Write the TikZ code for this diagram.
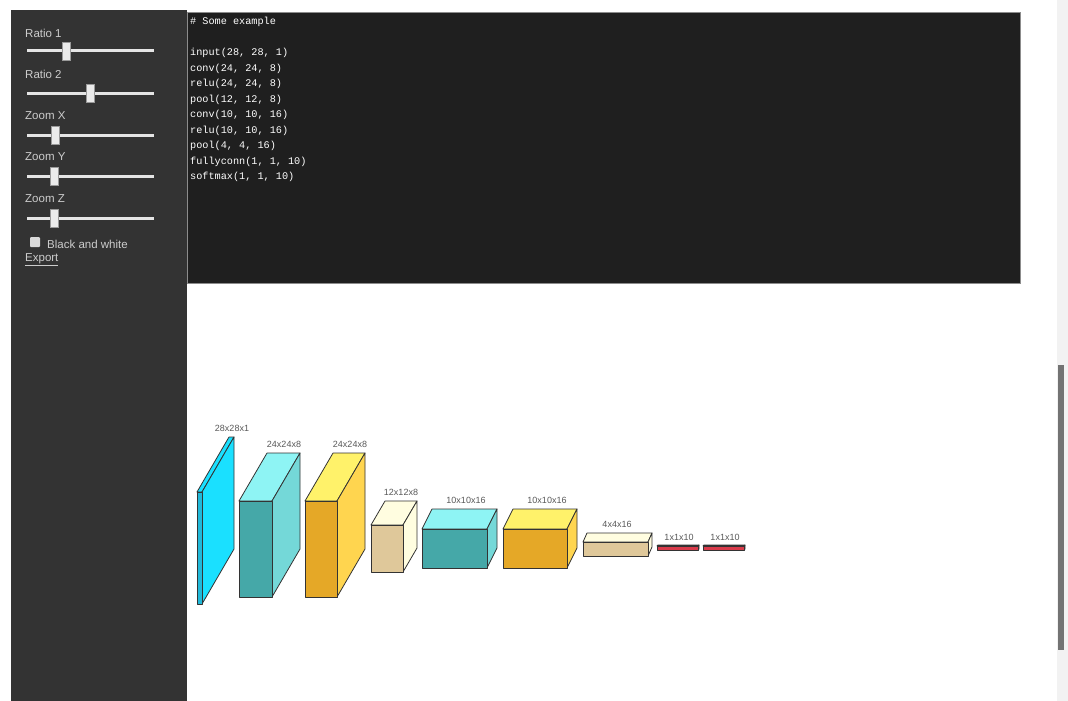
\documentclass[tikz,border=0pt]{standalone}
\usepackage{fontspec}
\setmainfont{Liberation Sans}
\newfontfamily\codefont{Liberation Mono}
\begin{document}
\begin{tikzpicture}[x=1pt,y=-1pt,
  lbl/.style={font=\fontsize{9}{10}\selectfont,text=black!65,inner sep=0pt},
  ui/.style={font=\fontsize{11.5}{12}\selectfont,text=black!20,anchor=west,inner sep=0pt},
  code/.style={font=\codefont\fontsize{10.2}{15.5}\selectfont,text=white,anchor=north west,inner sep=0pt,align=left},
  edge/.style={draw=black!80,line width=0.8pt,line join=round}]
\useasboundingbox (0,0) rectangle (1068,701);
\fill[white] (0,0) rectangle (1068,701);
% panels
\fill[black!80] (11,10) rectangle (187,701);
\fill[black!88,draw=black!45] (187,12) rectangle (1020,283);
\fill[black!5] (1057,0) rectangle (1068,701);
\fill[black!55] (1058,365) rectangle (1064,650);
% code
\node[code] (codetxt) at (190,17) {\# Some example\\[15.5pt]input(28, 28, 1)\\conv(24, 24, 8)\\relu(24, 24, 8)\\pool(12, 12, 8)\\conv(10, 10, 16)\\relu(10, 10, 16)\\pool(4, 4, 16)\\fullyconn(1, 1, 10)\\softmax(1, 1, 10)};
% sliders
\foreach \nm/\y/\t in {r1/51/66,r2/93/90,zx/135/55,zy/176/54,zz/218/54}{
  \fill[black!10] (27,\y-1.5) rectangle (154,\y+1.5);
  \fill[black!8,draw=black!40] (\t-4,\y-9) rectangle (\t+4,\y+9);
}
\node[ui] (l1) at (25,33) {Ratio 1};
\node[ui] (l2) at (25,74) {Ratio 2};
\node[ui] (l3) at (25,116) {Zoom X};
\node[ui] (l4) at (25,157) {Zoom Y};
\node[ui] (l5) at (25,199) {Zoom Z};
\fill[black!15,rounded corners=1pt] (30,237) rectangle (40,247);
\node[ui] (bw) at (47,244) {Black and white};
\node[ui] (exp) at (25,260) {\underline{Export}};
% cuboids
\newcommand\cub[9]{%
  \filldraw[edge,fill=#8] (#1,#2) -- (#1+#5,#2-#6) -- (#3+#5,#2-#6) -- (#3,#2) -- cycle;
  \filldraw[edge,fill=#9] (#3,#2) -- (#3+#5,#2-#6) -- (#3+#5,#4-#6) -- (#3,#4) -- cycle;
  \filldraw[edge,fill=#7] (#1,#2) rectangle (#3,#4);}
\definecolor{cyanF}{HTML}{1AE0FF}
\definecolor{cyanD}{HTML}{20B8D8}
\definecolor{tealF}{HTML}{45A8A8}
\definecolor{tealT}{HTML}{8EF4F4}
\definecolor{tealS}{HTML}{74D8D8}
\definecolor{yelF}{HTML}{E5A827}
\definecolor{yelT}{HTML}{FFF26A}
\definecolor{yelS}{HTML}{FFD54F}
\definecolor{poolF}{HTML}{DFC89A}
\definecolor{poolT}{HTML}{FFFDE0}
\definecolor{redF}{HTML}{D93B4B}
\cub{197}{492}{202}{604}{32}{55}{cyanD}{cyanF}{cyanF}
\cub{239}{501}{272}{597}{28}{48}{tealF}{tealT}{tealS}
\cub{305}{501}{337}{597}{28}{48}{yelF}{yelT}{yelS}
\cub{371}{525}{403}{572}{14}{24}{poolF}{poolT}{poolT}
\cub{422}{529}{487}{568}{10}{20}{tealF}{tealT}{tealS}
\cub{503}{529}{567}{568}{10}{20}{yelF}{yelT}{yelS}
\cub{583}{542}{648}{556}{4}{9}{poolF}{poolT}{poolT}
\cub{657}{546}{698}{550}{1}{1}{redF}{redF}{redF}
\cub{703}{546}{744}{550}{1}{1}{redF}{redF}{redF}
\node[lbl] (t1) at (232,428) {28x28x1};
\node[lbl] (t2) at (284,444) {24x24x8};
\node[lbl] (t3) at (350,444) {24x24x8};
\node[lbl] (t4) at (401,492) {12x12x8};
\node[lbl] (t5) at (466,500) {10x10x16};
\node[lbl] (t6) at (547,500) {10x10x16};
\node[lbl] (t7) at (617,524) {4x4x16};
\node[lbl] (t8) at (679,537) {1x1x10};
\node[lbl] (t9) at (725,537) {1x1x10};
\end{tikzpicture}
\end{document}
